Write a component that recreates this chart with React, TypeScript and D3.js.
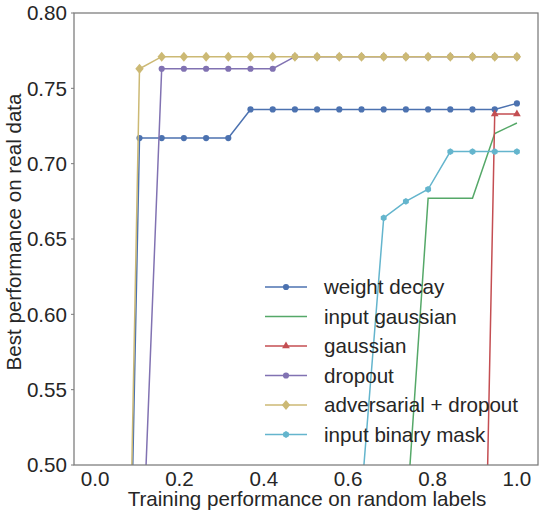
import * as d3 from 'd3';

// thresholds on training performance (random labels)
const thresholds = [0.0526, 0.1053, 0.1579, 0.2105, 0.2632, 0.3158, 0.3684, 0.4211, 0.4737, 0.5263,
    0.5789, 0.6316, 0.6842, 0.7368, 0.7895, 0.8421, 0.8947, 0.9474, 1.0];

const weightDecay = [0, 0.717, 0.717, 0.717, 0.717, 0.717, 0.736, 0.736, 0.736, 0.736,
    0.736, 0.736, 0.736, 0.736, 0.736, 0.736, 0.736, 0.736, 0.740];
const inputGaussian = [0, 0, 0, 0, 0, 0, 0, 0, 0, 0,
    0, 0, 0, 0.46, 0.677, 0.677, 0.677, 0.720, 0.727];
const gaussian = [0, 0, 0, 0, 0, 0, 0, 0, 0, 0,
    0, 0, 0, 0, 0, 0, 0, 0.733, 0.733];
const dropout = [0, 0.39, 0.763, 0.763, 0.763, 0.763, 0.763, 0.763, 0.771, 0.771,
    0.771, 0.771, 0.771, 0.771, 0.771, 0.771, 0.771, 0.771, 0.771];
const adversarialDropout = [0, 0.763, 0.771, 0.771, 0.771, 0.771, 0.771, 0.771, 0.771, 0.771,
    0.771, 0.771, 0.771, 0.771, 0.771, 0.771, 0.771, 0.771, 0.771];
const inputBinaryMask = [0, 0, 0, 0, 0, 0, 0, 0, 0, 0,
    0, 0.48, 0.664, 0.675, 0.683, 0.708, 0.708, 0.708, 0.708];

const xTicks = [0.0, 0.2, 0.4, 0.6, 0.8, 1.0];
const yTicks = [0.50, 0.55, 0.60, 0.65, 0.70, 0.75, 0.80];

type Marker = 'circle' | 'none' | 'triangle' | 'diamond' | 'hexagon';

const series: { name: string; values: number[]; color: string; marker: Marker }[] = [
    { name: 'weight decay', values: weightDecay, color: '#4C72B0', marker: 'circle' },
    { name: 'input gaussian', values: inputGaussian, color: '#55A868', marker: 'none' },
    { name: 'gaussian', values: gaussian, color: '#C44E52', marker: 'triangle' },
    { name: 'dropout', values: dropout, color: '#8172B2', marker: 'circle' },
    { name: 'adversarial + dropout', values: adversarialDropout, color: '#CCB974', marker: 'diamond' },
    { name: 'input binary mask', values: inputBinaryMask, color: '#64B5CD', marker: 'hexagon' },
];

const W = 547;
const H = 519;
const plot = { left: 74, right: 538, top: 13, bottom: 465 };
const FONT = '"Liberation Sans", Arial, sans-serif';
const FS = 20.6;
const TEXT = '#262626';

const x = d3.scaleLinear().domain([-0.05, 1.05]).range([plot.left, plot.right]);
const y = d3.scaleLinear().domain([0.5, 0.8]).range([plot.bottom, plot.top]);

function markerPath(m: Marker): string | null {
    if (m === 'circle') return d3.symbol(d3.symbolCircle, 30)();
    if (m === 'triangle') return d3.symbol(d3.symbolTriangle, 26)();
    if (m === 'diamond') return 'M0,-5L4.2,0L0,5L-4.2,0Z';
    if (m === 'hexagon') {
        const r = 3.4;
        const pts = d3.range(6).map(i => {
            const a = (Math.PI / 3) * i - Math.PI / 2;
            return [r * Math.cos(a), r * Math.sin(a)];
        });
        return 'M' + pts.map(p => p.join(',')).join('L') + 'Z';
    }
    return null;
}

function Series({ s }: { s: typeof series[number] }) {
    const line = d3.line<number>()
        .x((_, i) => x(thresholds[i]))
        .y(d => y(d));
    const mp = markerPath(s.marker);
    return (
        <g>
            <path d={line(s.values) ?? ''} fill="none" stroke={s.color} strokeWidth={1.5} />
            {mp && s.values.map((v, i) => (
                <path key={i} d={mp} transform={`translate(${x(thresholds[i])},${y(v)})`} fill={s.color} />
            ))}
        </g>
    );
}

export default function App() {
    const legendX = 265;
    const legendY0 = 287;
    const legendStep = 29.5;
    return (
        <svg width={W} height={H} style={{ position: 'absolute', left: 0, top: 0, background: '#fff' }}
            fontFamily={FONT}>
            <defs>
                <clipPath id="plot-clip">
                    <rect x={plot.left} y={plot.top} width={plot.right - plot.left} height={plot.bottom - plot.top} />
                </clipPath>
            </defs>
            <rect x={0} y={0} width={W} height={H} fill="#fff" />

            <g clipPath="url(#plot-clip)">
                {series.map(s => <Series key={s.name} s={s} />)}
            </g>

            {/* frame */}
            <rect x={plot.left} y={plot.top} width={plot.right - plot.left} height={plot.bottom - plot.top}
                fill="none" stroke="#7a7a7a" strokeWidth={1.25} />

            {/* y axis */}
            {yTicks.map(t => (
                <g key={t}>
                    <line x1={plot.left - 3} x2={plot.left} y1={y(t)} y2={y(t)} stroke="#7a7a7a" strokeWidth={1} />
                    <text x={67} y={y(t)} dy="0.36em" textAnchor="end" fontSize={FS} fill={TEXT}>
                        {d3.format('.2f')(t)}
                    </text>
                </g>
            ))}
            <text transform="translate(21,232) rotate(-90)" textAnchor="middle" fontSize={FS} fill={TEXT}>
                Best performance on real data
            </text>

            {/* x axis */}
            {xTicks.map(t => (
                <text key={t} x={x(t)} y={486} textAnchor="middle" fontSize={FS} fill={TEXT}>
                    {d3.format('.1f')(t)}
                </text>
            ))}
            <text x={307} y={506} textAnchor="middle" fontSize={FS} fill={TEXT}>
                Training performance on random labels
            </text>

            {/* legend */}
            {series.map((s, i) => {
                const ly = legendY0 + i * legendStep;
                const mp = markerPath(s.marker);
                return (
                    <g key={s.name}>
                        <line x1={legendX} x2={legendX + 42} y1={ly} y2={ly} stroke={s.color} strokeWidth={1.5} />
                        {mp && <path d={mp} transform={`translate(${legendX + 21},${ly})`} fill={s.color} />}
                        <text x={324} y={ly} dy="0.36em" fontSize={FS} fill={TEXT}>{s.name}</text>
                    </g>
                );
            })}
        </svg>
    );
}
